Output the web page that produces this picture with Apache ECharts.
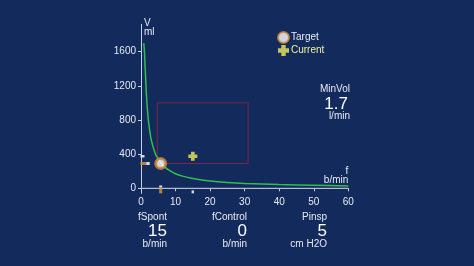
<!DOCTYPE html>
<html><head><meta charset="utf-8">
<script src="https://cdn.jsdelivr.net/npm/echarts@6/dist/echarts.min.js"></script>
<style>html,body{margin:0;padding:0;background:#132a5c;}#c{width:474px;height:266px;}</style>
</head><body><div id="c"></div>
<script>
// Curve readings (f in b/min, V in ml)
const curveF = [0.8, 1, 1.5, 2, 2.5, 3, 4, 5, 6, 7, 8, 10, 12, 15, 20, 25, 30, 40, 50, 60];
const curveV = [1700, 1600, 1150, 850, 680, 560, 420, 340, 285, 245, 215, 170, 142, 115, 85, 68, 57, 43, 34, 28];
const zeroLineF = [0, 60];
const zeroLineV = [0, 0];
const targetPoint = [5.7, 290];
const currentPoint = [15, 375];
const limitBoxF = [4.7, 31];
const limitBoxV = [290, 1000];
const xTicks = [0, 10, 20, 30, 40, 50, 60];
const yTicks = [0, 400, 800, 1200, 1600];
const minVol = "1.7";
const paramNames = ["fSpont", "fControl", "Pinsp"];
const paramValues = ["15", "0", "5"];
const paramUnits = ["b/min", "b/min", "cm H2O"];

const FONT = "Liberation Sans";
const TXT = "#e6eaf2";
const curveData = curveF.map((f, i) => [f, curveV[i]]);
const zeroData = zeroLineF.map((f, i) => [f, zeroLineV[i]]);
const plusPath = 'path://M3,0H7V3H10V7H7V10H3V7H0V3H3Z';

const chart = echarts.init(document.getElementById('c'), null, {renderer: 'canvas'});
const paramX = [167, 247, 327];
const graphics = [];
paramNames.forEach((n, i) => {
  graphics.push({type: 'text', x: paramX[i], y: 217, style: {text: n, fill: TXT, font: '10px ' + FONT, align: 'right', verticalAlign: 'middle'}});
  graphics.push({type: 'text', x: paramX[i], y: 231, style: {text: paramValues[i], fill: '#ffffff', font: '17px ' + FONT, align: 'right', verticalAlign: 'middle'}});
  graphics.push({type: 'text', x: paramX[i], y: 244, style: {text: paramUnits[i], fill: TXT, font: '10px ' + FONT, align: 'right', verticalAlign: 'middle'}});
});
graphics.push({type: 'text', x: 350, y: 89, style: {text: 'MinVol', fill: TXT, font: '10px ' + FONT, align: 'right', verticalAlign: 'middle'}});
graphics.push({type: 'text', x: 348, y: 104, style: {text: minVol, fill: '#ffffff', font: '17px ' + FONT, align: 'right', verticalAlign: 'middle'}});
graphics.push({type: 'text', x: 350, y: 116, style: {text: 'l/min', fill: TXT, font: '10px ' + FONT, align: 'right', verticalAlign: 'middle'}});

chart.setOption({
  backgroundColor: '#132a5c',
  animation: false,
  textStyle: {fontFamily: FONT},
  grid: {left: 141, right: 125.7, top: 24.3, bottom: 72.6},
  legend: {
    orient: 'vertical', left: 272, top: 26, itemWidth: 11, itemHeight: 11, itemGap: 1,
    textStyle: {fontSize: 10, fontFamily: FONT, padding: [0, 0, 0, -3]},
    data: [
      {name: 'Target', textStyle: {color: TXT}},
      {name: 'Current', textStyle: {color: '#eef09a'}}
    ]
  },
  xAxis: {
    type: 'value', min: 0, max: 60, interval: 10,
    name: 'f\nb/min', nameLocation: 'end', nameGap: 0,
    nameTextStyle: {color: TXT, fontSize: 10, align: 'right', verticalAlign: 'bottom', lineHeight: 9, padding: [0, 0, 4, 0]},
    axisLine: {lineStyle: {color: '#c6cee0', width: 1}},
    axisTick: {show: true, length: 3, inside: false, lineStyle: {color: '#c6cee0'}},
    axisLabel: {color: TXT, fontSize: 10, margin: 4},
    splitLine: {show: false}
  },
  yAxis: {
    type: 'value', min: -60, max: 1920,
    name: 'V\nml', nameLocation: 'end', nameGap: 6,
    nameTextStyle: {color: TXT, fontSize: 10, align: 'left', verticalAlign: 'top', lineHeight: 9, padding: [0, 0, 0, 3]},
    axisLine: {show: true, lineStyle: {color: '#c6cee0', width: 1}},
    axisTick: {show: true, length: 3, customValues: yTicks, lineStyle: {color: '#c6cee0'}},
    axisLabel: {color: TXT, fontSize: 10, margin: 5, customValues: yTicks, formatter: v => String(v)},
    splitLine: {show: false}
  },
  series: [
    {
      type: 'line', name: 'zero', data: zeroData, showSymbol: false, silent: true,
      lineStyle: {color: '#aeb7cc', width: 1}, z: 1
    },
    {
      type: 'line', name: 'curve', data: curveData, smooth: 0.3, showSymbol: false, silent: true,
      lineStyle: {color: '#2fbf4f', width: 1.5}, z: 2,
      markArea: {silent: true, itemStyle: {color: 'rgba(0,0,0,0)', borderColor: '#7e2446', borderWidth: 1},
        data: [[{xAxis: limitBoxF[0], yAxis: limitBoxV[0]}, {xAxis: limitBoxF[1], yAxis: limitBoxV[1]}]]}
    },
    {
      type: 'scatter', name: 'Current', data: [currentPoint], symbol: plusPath, symbolSize: 9,
      itemStyle: {color: '#f4ea5c'}, z: 4
    },
    {
      type: 'scatter', name: 'Target', data: [targetPoint], symbol: 'circle', symbolSize: 10,
      itemStyle: {color: '#ffffff', borderColor: '#cf8636', borderWidth: 3}, z: 5
    },
    {type: 'scatter', data: [[0, targetPoint[1]]], symbol: 'rect', symbolSize: [6, 3], symbolOffset: [2.5, 0], clip: false, silent: true, itemStyle: {color: '#e0952e'}, z: 6},
    {type: 'scatter', data: [[0, targetPoint[1]]], symbol: 'rect', symbolSize: [3.5, 3], symbolOffset: [7, 0], clip: false, silent: true, itemStyle: {color: '#ffffff'}, z: 6},
    {type: 'scatter', data: [[0, currentPoint[1]]], symbol: 'rect', symbolSize: [4, 2.5], symbolOffset: [1.5, 0], clip: false, silent: true, itemStyle: {color: '#ffffff'}, z: 6},
    {type: 'scatter', data: [[targetPoint[0], -60]], symbol: 'rect', symbolSize: [3, 6], symbolOffset: [0, -3], clip: false, silent: true, itemStyle: {color: '#e0952e'}, z: 6},
    {type: 'scatter', data: [[targetPoint[0], -60]], symbol: 'rect', symbolSize: [3, 2], symbolOffset: [0, -7], clip: false, silent: true, itemStyle: {color: '#ffffff'}, z: 6},
    {type: 'scatter', data: [[currentPoint[0], -60]], symbol: 'rect', symbolSize: [2.5, 3], symbolOffset: [0, -1.5], clip: false, silent: true, itemStyle: {color: '#ffffff'}, z: 6}
  ],
  graphic: graphics
});
</script></body></html>
